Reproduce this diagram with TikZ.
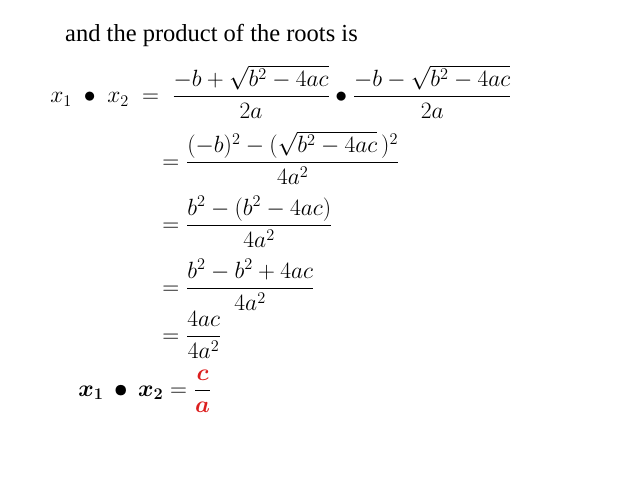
\documentclass[tikz,border=0pt]{standalone}
\usepackage{amsmath,amssymb}
\usepackage{fontspec}
\setmainfont{Liberation Serif}
\usepackage{xcolor}
\definecolor{redc}{RGB}{220,30,30}
\begin{document}
\begin{tikzpicture}[x=1pt,y=-1pt,
  eq/.style={anchor=west,inner sep=0pt,font=\fontsize{17}{20}\selectfont,scale=1.36,transform shape}]
\useasboundingbox (0,0) rectangle (638,478);
\node[anchor=west,inner sep=0pt,font=\fontsize{24.5}{28}\selectfont] (t) at (65,35) {and the product of the roots is};
\node[eq] (l1) at (50,92) {$x_1 \;\bullet\; x_2 \;=\; \dfrac{-b+\sqrt{b^2-4ac}}{2a}\bullet\dfrac{-b-\sqrt{b^2-4ac}}{2a}$};
\node[eq] (l2) at (162,158) {$=\dfrac{(-b)^2-(\sqrt{b^2-4ac}\,)^2}{4a^2}$};
\node[eq] (l3) at (162,222) {$=\dfrac{b^2-(b^2-4ac)}{4a^2}$};
\node[eq] (l4) at (162,285) {$=\dfrac{b^2-b^2+4ac}{4a^2}$};
\node[eq] (l5) at (162,335) {$=\dfrac{4ac}{4a^2}$};
\node[eq] (l6) at (78,391) {$\boldsymbol{x_1 \,\bullet\, x_2} = \dfrac{\color{redc}\boldsymbol{c}}{\color{redc}\boldsymbol{a}}$};
\end{tikzpicture}
\end{document}
